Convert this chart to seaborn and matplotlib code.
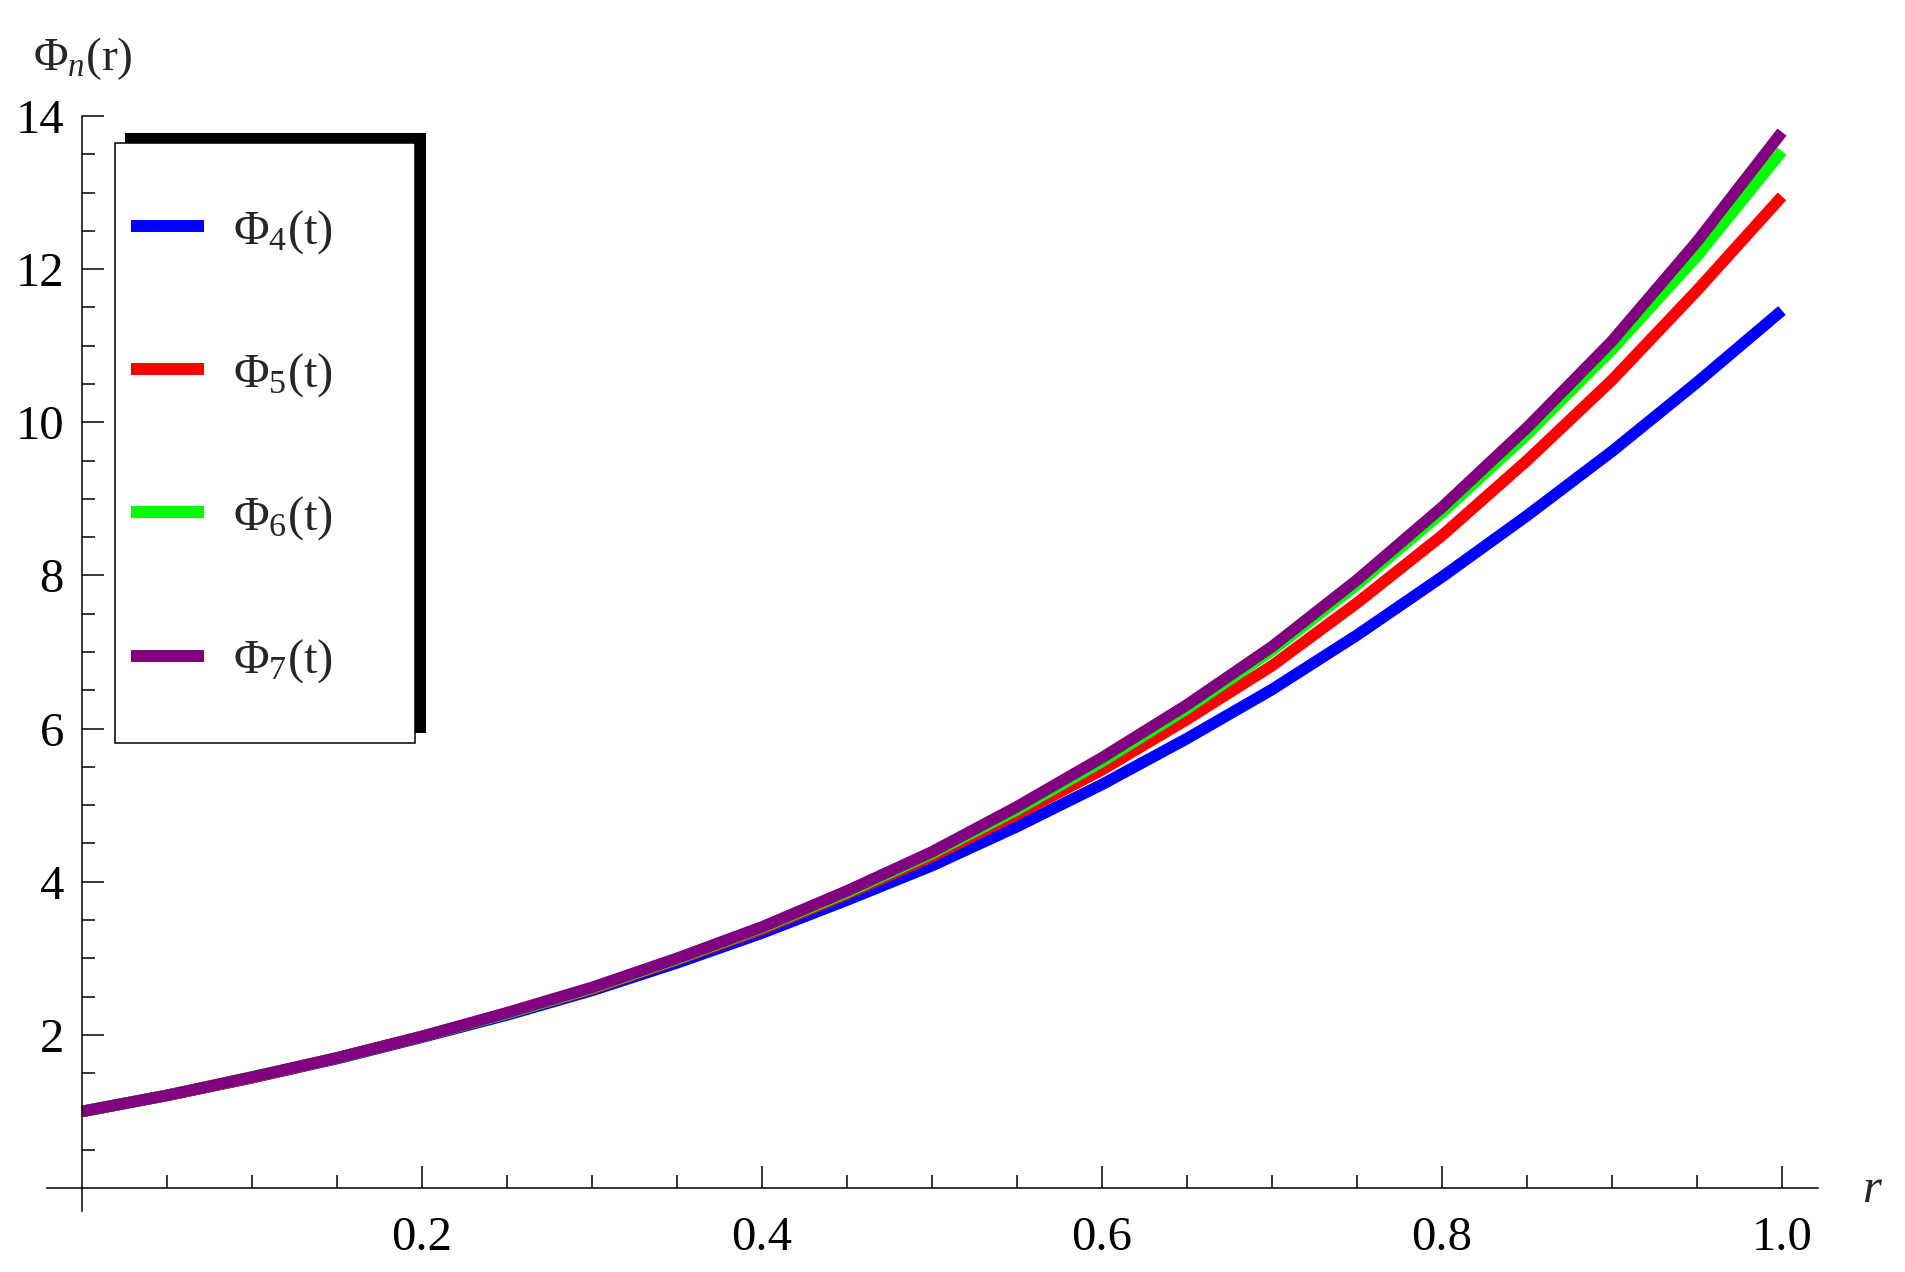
import numpy as np
import pandas as pd
import matplotlib
matplotlib.use("Agg")
import matplotlib.pyplot as plt
from matplotlib.patches import Rectangle
from matplotlib.ticker import FixedLocator
import seaborn as sns

# ---- data ----
r_vals = [0.00, 0.05, 0.10, 0.15, 0.20, 0.25, 0.30, 0.35, 0.40, 0.45, 0.50,
          0.55, 0.60, 0.65, 0.70, 0.75, 0.80, 0.85, 0.90, 0.95, 1.00]
phi4 = [1.00, 1.21, 1.44, 1.69, 1.97, 2.26, 2.58, 2.94, 3.33, 3.76, 4.21,
        4.72, 5.27, 5.87, 6.51, 7.22, 7.98, 8.78, 9.62, 10.52, 11.46]
phi5 = [1.00, 1.21, 1.44, 1.70, 1.98, 2.28, 2.60, 2.98, 3.38, 3.84, 4.33,
        4.88, 5.46, 6.12, 6.82, 7.64, 8.52, 9.50, 10.55, 11.72, 12.95]
phi6 = [1.00, 1.21, 1.45, 1.70, 1.98, 2.28, 2.61, 2.99, 3.40, 3.86, 4.37,
        4.94, 5.57, 6.26, 7.02, 7.88, 8.82, 9.84, 10.95, 12.17, 13.54]
phi7 = [1.00, 1.21, 1.45, 1.70, 1.98, 2.29, 2.62, 3.00, 3.41, 3.88, 4.39,
        4.98, 5.62, 6.31, 7.07, 7.94, 8.89, 9.93, 11.06, 12.36, 13.79]
series_names = ["Phi4", "Phi5", "Phi6", "Phi7"]
legend_labels = [r"$\Phi_4$(t)", r"$\Phi_5$(t)", r"$\Phi_6$(t)", r"$\Phi_7$(t)"]
colors = ["#0000FF", "#FF0000", "#00FF00", "#800080"]
x_major = [0.2, 0.4, 0.6, 0.8, 1.0]
x_labels = ["0.2", "0.4", "0.6", "0.8", "1.0"]
y_major = [2, 4, 6, 8, 10, 12, 14]
y_labels = ["2", "4", "6", "8", "10", "12", "14"]

frames = []
for name, vals in zip(series_names, [phi4, phi5, phi6, phi7]):
    frames.append(pd.DataFrame({"r": r_vals, "val": vals, "series": name}))
df = pd.concat(frames, ignore_index=True)

sns.set_style("white")
plt.rcParams["font.family"] = ["Liberation Serif", "DejaVu Serif"]
plt.rcParams["mathtext.fontset"] = "custom"
plt.rcParams["mathtext.rm"] = "Liberation Serif"
plt.rcParams["mathtext.it"] = "Liberation Serif:italic"
plt.rcParams["mathtext.bf"] = "Liberation Serif:bold"

W, H = 1906, 1272
fig = plt.figure(figsize=(W / 100, H / 100), dpi=100)
ax = fig.add_axes([47 / W, 61 / H, (1818 - 47) / W, (1211 - 116) / H])

sns.lineplot(data=df, x="r", y="val", hue="series", hue_order=series_names,
             palette=dict(zip(series_names, colors)), linewidth=8.3,
             estimator=None, sort=False, legend=False, ax=ax,
             solid_capstyle="butt", solid_joinstyle="round", clip_on=False)

ax.set_xlim(-0.0206, 1.0212)
ax.set_ylim(-0.30, 14.0)
ax.set_xlabel("")
ax.set_ylabel("")

for s in ["top", "right"]:
    ax.spines[s].set_visible(False)
ax.spines["left"].set_position(("data", 0))
ax.spines["bottom"].set_position(("data", 0))
for s in ["left", "bottom"]:
    ax.spines[s].set_linewidth(1.1)
    ax.spines[s].set_color("black")

ax.xaxis.set_major_locator(FixedLocator(x_major))
ax.set_xticklabels(x_labels)
ax.yaxis.set_major_locator(FixedLocator(y_major))
ax.set_yticklabels(y_labels)
x_minor = [round(0.05 * i, 2) for i in range(1, 21) if i % 4 != 0]
y_minor = [0.5 * i for i in range(1, 29) if i % 4 != 0]
ax.xaxis.set_minor_locator(FixedLocator(x_minor))
ax.yaxis.set_minor_locator(FixedLocator(y_minor))

ax.tick_params(axis="both", which="major", direction="in", length=15.6, width=1.1,
               color="black", labelsize=35, labelcolor="black")
ax.tick_params(axis="both", which="minor", direction="in", length=9.6, width=1.1,
               color="black")
ax.tick_params(axis="x", which="major", pad=20, bottom=True)
ax.tick_params(axis="x", which="minor", bottom=True)
ax.tick_params(axis="y", which="major", pad=13, left=True)
ax.tick_params(axis="y", which="minor", left=True)
ax.grid(False)

# axis labels
fig.text(33 / W, 1 - 70 / H, r"$\Phi_n$(r)", fontsize=34, ha="left", va="baseline")
fig.text(1862 / W, 1 - 1202 / H, "r", fontsize=35, fontstyle="italic",
         ha="left", va="baseline")

# legend frame with shadow
shadow = Rectangle((125 / W, 1 - 733 / H), 301 / W, 600 / H, transform=fig.transFigure,
                   facecolor="black", edgecolor="none", zorder=4, clip_on=False)
box = Rectangle((115 / W, 1 - 743 / H), 300 / W, 600 / H, transform=fig.transFigure,
                facecolor="white", edgecolor="black", linewidth=1.1, zorder=4.5,
                clip_on=False)
ax.add_patch(shadow)
ax.add_patch(box)

leg = ax.legend(ax.lines[:4], legend_labels, loc="upper left",
                bbox_to_anchor=(131 / W, 1 - 208 / H), bbox_transform=fig.transFigure,
                frameon=False, fontsize=35, handlelength=1.5, handletextpad=0.6,
                labelspacing=1.96, borderpad=0, borderaxespad=0)
leg.set_zorder(5)
for h in leg.get_lines():
    h.set_linewidth(8.6)
    h.set_solid_capstyle("butt")

fig.savefig("out.png", dpi=100)
